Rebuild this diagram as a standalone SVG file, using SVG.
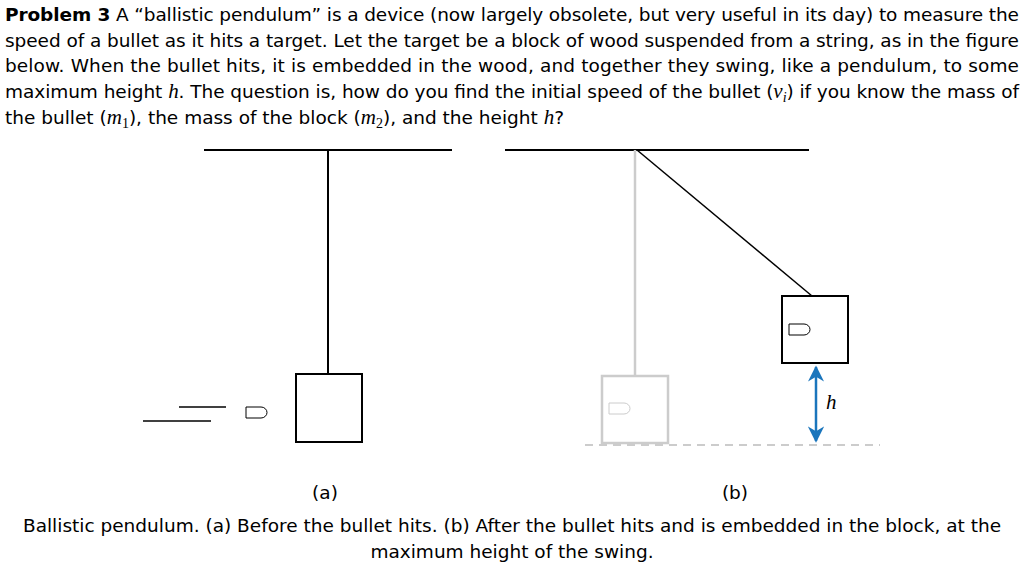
<svg xmlns="http://www.w3.org/2000/svg" width="1024" height="568" viewBox="0 0 1024 568">
<style>
.t{font-family:"DejaVu Sans","Liberation Sans",sans-serif;font-size:18.5px;fill:#000}
.m{font-family:"Liberation Serif",serif;font-style:italic;font-size:21px}
.s{font-family:"Liberation Serif",serif;font-size:14px}
.k{stroke:#000;stroke-width:2;fill:none}
.g{stroke:#ccc;stroke-width:2.5;fill:none}
.bl{stroke:#000;stroke-width:1;fill:#fff}
.bg{stroke:#ccc;stroke-width:1;fill:#fff}
</style>
<defs>
<marker id="ah" viewBox="0 0 10 10" refX="9" refY="5" markerWidth="6.5" markerHeight="6.5" orient="auto-start-reverse"><path d="M0,0 L10,5 L0,10 L3,5 Z" fill="#1a75bc"/></marker>
<path id="bullet" d="M0,0 H15 A6,5.5 0 0 1 15,11 H0 Z"/>
</defs>
<rect width="1024" height="568" fill="#fff"/>
<g id="text">
<text class="t" x="5" y="21" textLength="1014" lengthAdjust="spacing"><tspan font-weight="bold">Problem 3</tspan> A “ballistic pendulum” is a device (now largely obsolete, but very useful in its day) to measure the</text>
<text class="t" x="5" y="47" textLength="1014" lengthAdjust="spacing">speed of a bullet as it hits a target. Let the target be a block of wood suspended from a string, as in the figure</text>
<text class="t" x="5" y="72" textLength="1014" lengthAdjust="spacing">below. When the bullet hits, it is embedded in the wood, and together they swing, like a pendulum, to some</text>
<text class="t" x="5" y="98" textLength="1014" lengthAdjust="spacing">maximum height <tspan class="m">h</tspan>. The question is, how do you find the initial speed of the bullet (<tspan class="m">v</tspan><tspan class="s" font-style="italic" dy="4">i</tspan><tspan dy="-4">) if you know the mass of</tspan></text>
<text class="t" x="5" y="124">the bullet (<tspan class="m">m</tspan><tspan class="s" dy="4">1</tspan><tspan dy="-4">), the mass of the block (</tspan><tspan class="m">m</tspan><tspan class="s" dy="4">2</tspan><tspan dy="-4">), and the height </tspan><tspan class="m">h</tspan>?</text>
<text class="t" x="325" y="499" text-anchor="middle">(a)</text>
<text class="t" x="735" y="499" text-anchor="middle">(b)</text>
<text class="t" x="512" y="532" text-anchor="middle">Ballistic pendulum. (a) Before the bullet hits. (b) After the bullet hits and is embedded in the block, at the</text>
<text class="t" x="512" y="558" text-anchor="middle">maximum height of the swing.</text>
<text class="m" x="826" y="409" font-size="25">h</text>
</g>
<g id="node-a">
<line class="k" x1="204" y1="150" x2="452" y2="150"/>
<line class="k" x1="328" y1="150" x2="328" y2="374"/>
<rect class="k" x="296" y="374" width="66" height="68"/>
<line stroke="#000" stroke-width="1.3" x1="179" y1="407" x2="226" y2="407"/>
<line stroke="#000" stroke-width="1.3" x1="143" y1="421" x2="211" y2="421"/>
<use href="#bullet" class="bl" x="246" y="407"/>
</g>
<g id="node-b">
<line class="k" x1="505" y1="150" x2="809" y2="150"/>
<line class="g" x1="635" y1="150" x2="635" y2="376"/>
<rect class="g" x="602" y="376" width="66" height="67"/>
<use href="#bullet" class="bg" x="609" y="403"/>
<line stroke="#ccc" stroke-width="2" stroke-dasharray="8,6" x1="585" y1="445" x2="880" y2="445"/>
<line stroke="#000" stroke-width="1.5" x1="637" y1="150" x2="812" y2="296"/>
<rect class="k" x="782" y="296" width="66" height="67"/>
<use href="#bullet" class="bl" x="789" y="324"/>
</g>
<g id="connectors">
<line stroke="#1a75bc" stroke-width="2.5" x1="816" y1="367" x2="816" y2="441" marker-start="url(#ah)" marker-end="url(#ah)"/>
</g>
</svg>
